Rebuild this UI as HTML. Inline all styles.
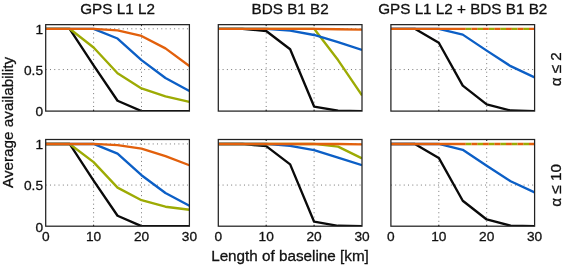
<!DOCTYPE html>
<html lang="en"><head><meta charset="utf-8"><title>Average availability vs. length of baseline</title>
<style>html,body{margin:0;padding:0;background:#fff}body{width:566px;height:265px;overflow:hidden;font-family:"Liberation Sans",sans-serif}svg{display:block}</style>
</head><body>
<svg font-family="'Liberation Sans', sans-serif" fill="#111" width="566" height="265" viewBox="0 0 566 265">
<rect width="566" height="265" fill="#ffffff"/>
<g stroke="#777" stroke-width="1" stroke-dasharray="1 3.28" fill="none"><line x1="93.60" y1="24.65" x2="93.60" y2="111.10"/><line x1="141.50" y1="24.65" x2="141.50" y2="111.10"/><line x1="45.70" y1="69.55" x2="189.40" y2="69.55"/><line x1="45.70" y1="28.80" x2="189.40" y2="28.80"/></g>
<clipPath id="c00"><rect x="45.70" y="24.65" width="143.70" height="86.45"/></clipPath>
<g fill="none" stroke-width="2.35" stroke-linejoin="round" clip-path="url(#c00)"><polyline points="45.70,28.80 69.65,28.80 93.60,65.42 117.55,100.73 141.50,111.10 165.45,111.10 189.40,111.10" stroke="#0a0a0a"/><polyline points="45.70,28.80 69.65,28.80 93.60,47.48 117.55,73.24 141.50,88.39 165.45,96.45 189.40,101.80" stroke="#9dab04"/><polyline points="45.70,28.80 69.65,28.80 93.60,28.80 117.55,38.51 141.50,60.07 165.45,78.02 189.40,91.02" stroke="#0c5fc6"/><polyline points="45.70,28.80 69.65,28.80 93.60,28.80 117.55,30.45 141.50,35.96 165.45,48.39 189.40,66.08" stroke="#e2600c"/></g>
<rect x="45.70" y="24.65" width="143.70" height="86.45" fill="none" stroke="#222" stroke-width="1.25"/>
<g stroke="#222" stroke-width="1"><line x1="93.60" y1="111.10" x2="93.60" y2="109.60"/><line x1="93.60" y1="24.65" x2="93.60" y2="26.15"/><line x1="141.50" y1="111.10" x2="141.50" y2="109.60"/><line x1="141.50" y1="24.65" x2="141.50" y2="26.15"/></g>
<text stroke="#111" stroke-width="0.3" transform="translate(43.00,116.40) scale(1.0,1)" text-anchor="end" font-size="13.7">0</text>
<text stroke="#111" stroke-width="0.3" transform="translate(43.00,74.85) scale(1.0,1)" text-anchor="end" font-size="13.7">0.5</text>
<text stroke="#111" stroke-width="0.3" transform="translate(43.00,34.10) scale(1.0,1)" text-anchor="end" font-size="13.7">1</text>
<g stroke="#777" stroke-width="1" stroke-dasharray="1 3.28" fill="none"><line x1="266.20" y1="24.65" x2="266.20" y2="111.10"/><line x1="314.10" y1="24.65" x2="314.10" y2="111.10"/><line x1="218.30" y1="69.55" x2="362.00" y2="69.55"/><line x1="218.30" y1="28.80" x2="362.00" y2="28.80"/></g>
<clipPath id="c01"><rect x="218.30" y="24.65" width="143.70" height="86.45"/></clipPath>
<g fill="none" stroke-width="2.35" stroke-linejoin="round" clip-path="url(#c01)"><polyline points="218.30,28.80 242.25,28.80 266.20,31.02 290.15,49.21 314.10,106.57 338.05,110.69 362.00,111.10" stroke="#0a0a0a"/><polyline points="218.30,28.80 242.25,28.80 266.20,28.80 290.15,28.80 314.10,28.80 338.05,60.07 362.00,95.46" stroke="#9dab04"/><polyline points="218.30,28.80 242.25,28.80 266.20,28.80 290.15,30.69 314.10,34.97 338.05,42.05 362.00,49.95" stroke="#0c5fc6"/><polyline points="218.30,28.80 242.25,28.80 266.20,28.80 290.15,28.80 314.10,28.80 338.05,29.21 362.00,29.62" stroke="#e2600c"/></g>
<rect x="218.30" y="24.65" width="143.70" height="86.45" fill="none" stroke="#222" stroke-width="1.25"/>
<g stroke="#222" stroke-width="1"><line x1="266.20" y1="111.10" x2="266.20" y2="109.60"/><line x1="266.20" y1="24.65" x2="266.20" y2="26.15"/><line x1="314.10" y1="111.10" x2="314.10" y2="109.60"/><line x1="314.10" y1="24.65" x2="314.10" y2="26.15"/></g>
<g stroke="#777" stroke-width="1" stroke-dasharray="1 3.28" fill="none"><line x1="438.80" y1="24.65" x2="438.80" y2="111.10"/><line x1="486.70" y1="24.65" x2="486.70" y2="111.10"/><line x1="390.90" y1="69.55" x2="534.60" y2="69.55"/><line x1="390.90" y1="28.80" x2="534.60" y2="28.80"/></g>
<clipPath id="c02"><rect x="390.90" y="24.65" width="143.70" height="86.45"/></clipPath>
<g fill="none" stroke-width="2.35" stroke-linejoin="round" clip-path="url(#c02)"><polyline points="390.90,28.80 414.85,28.80 438.80,42.79 462.75,85.59 486.70,104.35 510.65,110.52 534.60,111.10" stroke="#0a0a0a"/><polyline points="390.90,28.80 414.85,28.80 438.80,28.80 462.75,34.64 486.70,50.61 510.65,66.16 534.60,77.36" stroke="#0c5fc6"/><line x1="390.90" y1="28.80" x2="465.8" y2="28.80" stroke="#e2600c"/><line x1="465.8" y1="28.80" x2="534.60" y2="28.80" stroke="#9dab04" stroke-dasharray="5.7 5.8"/><line x1="471.5" y1="28.80" x2="534.60" y2="28.80" stroke="#e2600c" stroke-dasharray="5.8 5.7"/></g>
<rect x="390.90" y="24.65" width="143.70" height="86.45" fill="none" stroke="#222" stroke-width="1.25"/>
<g stroke="#222" stroke-width="1"><line x1="438.80" y1="111.10" x2="438.80" y2="109.60"/><line x1="438.80" y1="24.65" x2="438.80" y2="26.15"/><line x1="486.70" y1="111.10" x2="486.70" y2="109.60"/><line x1="486.70" y1="24.65" x2="486.70" y2="26.15"/></g>
<g stroke="#777" stroke-width="1" stroke-dasharray="1 3.28" fill="none"><line x1="93.60" y1="139.50" x2="93.60" y2="226.20"/><line x1="141.50" y1="139.50" x2="141.50" y2="226.20"/><line x1="45.70" y1="185.07" x2="189.40" y2="185.07"/><line x1="45.70" y1="143.95" x2="189.40" y2="143.95"/></g>
<clipPath id="c10"><rect x="45.70" y="139.50" width="143.70" height="86.70"/></clipPath>
<g fill="none" stroke-width="2.35" stroke-linejoin="round" clip-path="url(#c10)"><polyline points="45.70,143.95 69.65,143.95 93.60,180.55 117.55,215.75 141.50,226.20 165.45,226.20 189.40,226.20" stroke="#0a0a0a"/><polyline points="45.70,143.95 69.65,143.95 93.60,162.13 117.55,187.62 141.50,200.21 165.45,206.71 189.40,209.75" stroke="#9dab04"/><polyline points="45.70,143.95 69.65,143.95 93.60,143.95 117.55,153.66 141.50,175.20 165.45,193.05 189.40,205.72" stroke="#0c5fc6"/><polyline points="45.70,143.95 69.65,143.95 93.60,143.95 117.55,145.18 141.50,148.64 165.45,156.21 189.40,165.25" stroke="#e2600c"/></g>
<rect x="45.70" y="139.50" width="143.70" height="86.70" fill="none" stroke="#222" stroke-width="1.25"/>
<g stroke="#222" stroke-width="1"><line x1="93.60" y1="226.20" x2="93.60" y2="224.70"/><line x1="93.60" y1="139.50" x2="93.60" y2="141.00"/><line x1="141.50" y1="226.20" x2="141.50" y2="224.70"/><line x1="141.50" y1="139.50" x2="141.50" y2="141.00"/></g>
<text stroke="#111" stroke-width="0.3" transform="translate(43.00,231.50) scale(1.0,1)" text-anchor="end" font-size="13.7">0</text>
<text stroke="#111" stroke-width="0.3" transform="translate(43.00,190.38) scale(1.0,1)" text-anchor="end" font-size="13.7">0.5</text>
<text stroke="#111" stroke-width="0.3" transform="translate(43.00,149.25) scale(1.0,1)" text-anchor="end" font-size="13.7">1</text>
<text stroke="#111" stroke-width="0.3" transform="translate(45.70,241.00) scale(1.0,1)" text-anchor="middle" font-size="13.7">0</text>
<text stroke="#111" stroke-width="0.3" transform="translate(93.60,241.00) scale(1.0,1)" text-anchor="middle" font-size="13.7">10</text>
<text stroke="#111" stroke-width="0.3" transform="translate(141.50,241.00) scale(1.0,1)" text-anchor="middle" font-size="13.7">20</text>
<text stroke="#111" stroke-width="0.3" transform="translate(189.40,241.00) scale(1.0,1)" text-anchor="middle" font-size="13.7">30</text>
<g stroke="#777" stroke-width="1" stroke-dasharray="1 3.28" fill="none"><line x1="266.20" y1="139.50" x2="266.20" y2="226.20"/><line x1="314.10" y1="139.50" x2="314.10" y2="226.20"/><line x1="218.30" y1="185.07" x2="362.00" y2="185.07"/><line x1="218.30" y1="143.95" x2="362.00" y2="143.95"/></g>
<clipPath id="c11"><rect x="218.30" y="139.50" width="143.70" height="86.70"/></clipPath>
<g fill="none" stroke-width="2.35" stroke-linejoin="round" clip-path="url(#c11)"><polyline points="218.30,143.95 242.25,143.95 266.20,146.17 290.15,164.35 314.10,221.68 338.05,225.79 362.00,226.20" stroke="#0a0a0a"/><polyline points="218.30,143.95 242.25,143.95 266.20,143.95 290.15,143.95 314.10,143.95 338.05,146.58 362.00,158.34" stroke="#9dab04"/><polyline points="218.30,143.95 242.25,143.95 266.20,143.95 290.15,145.84 314.10,150.12 338.05,157.60 362.00,165.25" stroke="#0c5fc6"/><polyline points="218.30,143.95 242.25,143.95 266.20,143.95 290.15,143.95 314.10,143.95 338.05,143.95 362.00,144.36" stroke="#e2600c"/></g>
<rect x="218.30" y="139.50" width="143.70" height="86.70" fill="none" stroke="#222" stroke-width="1.25"/>
<g stroke="#222" stroke-width="1"><line x1="266.20" y1="226.20" x2="266.20" y2="224.70"/><line x1="266.20" y1="139.50" x2="266.20" y2="141.00"/><line x1="314.10" y1="226.20" x2="314.10" y2="224.70"/><line x1="314.10" y1="139.50" x2="314.10" y2="141.00"/></g>
<text stroke="#111" stroke-width="0.3" transform="translate(218.30,241.00) scale(1.0,1)" text-anchor="middle" font-size="13.7">0</text>
<text stroke="#111" stroke-width="0.3" transform="translate(266.20,241.00) scale(1.0,1)" text-anchor="middle" font-size="13.7">10</text>
<text stroke="#111" stroke-width="0.3" transform="translate(314.10,241.00) scale(1.0,1)" text-anchor="middle" font-size="13.7">20</text>
<text stroke="#111" stroke-width="0.3" transform="translate(362.00,241.00) scale(1.0,1)" text-anchor="middle" font-size="13.7">30</text>
<g stroke="#777" stroke-width="1" stroke-dasharray="1 3.28" fill="none"><line x1="438.80" y1="139.50" x2="438.80" y2="226.20"/><line x1="486.70" y1="139.50" x2="486.70" y2="226.20"/><line x1="390.90" y1="185.07" x2="534.60" y2="185.07"/><line x1="390.90" y1="143.95" x2="534.60" y2="143.95"/></g>
<clipPath id="c12"><rect x="390.90" y="139.50" width="143.70" height="86.70"/></clipPath>
<g fill="none" stroke-width="2.35" stroke-linejoin="round" clip-path="url(#c12)"><polyline points="390.90,143.95 414.85,143.95 438.80,157.93 462.75,200.70 486.70,219.46 510.65,225.62 534.60,226.20" stroke="#0a0a0a"/><polyline points="390.90,143.95 414.85,143.95 438.80,143.95 462.75,149.79 486.70,165.75 510.65,181.29 534.60,192.48" stroke="#0c5fc6"/><line x1="390.90" y1="143.95" x2="465.8" y2="143.95" stroke="#e2600c"/><line x1="465.8" y1="143.95" x2="534.60" y2="143.95" stroke="#9dab04" stroke-dasharray="5.7 5.8"/><line x1="471.5" y1="143.95" x2="534.60" y2="143.95" stroke="#e2600c" stroke-dasharray="5.8 5.7"/></g>
<rect x="390.90" y="139.50" width="143.70" height="86.70" fill="none" stroke="#222" stroke-width="1.25"/>
<g stroke="#222" stroke-width="1"><line x1="438.80" y1="226.20" x2="438.80" y2="224.70"/><line x1="438.80" y1="139.50" x2="438.80" y2="141.00"/><line x1="486.70" y1="226.20" x2="486.70" y2="224.70"/><line x1="486.70" y1="139.50" x2="486.70" y2="141.00"/></g>
<text stroke="#111" stroke-width="0.3" transform="translate(390.90,241.00) scale(1.0,1)" text-anchor="middle" font-size="13.7">0</text>
<text stroke="#111" stroke-width="0.3" transform="translate(438.80,241.00) scale(1.0,1)" text-anchor="middle" font-size="13.7">10</text>
<text stroke="#111" stroke-width="0.3" transform="translate(486.70,241.00) scale(1.0,1)" text-anchor="middle" font-size="13.7">20</text>
<text stroke="#111" stroke-width="0.3" transform="translate(534.60,241.00) scale(1.0,1)" text-anchor="middle" font-size="13.7">30</text>
<text stroke="#111" stroke-width="0.3" transform="translate(117.55,13.50) scale(1.0,1)" text-anchor="middle" font-size="15.25">GPS L1 L2</text>
<text stroke="#111" stroke-width="0.3" transform="translate(290.15,13.50) scale(1.0,1)" text-anchor="middle" font-size="15.25">BDS B1 B2</text>
<text stroke="#111" stroke-width="0.3" transform="translate(462.75,13.50) scale(1.0,1)" text-anchor="middle" font-size="15.25">GPS L1 L2 + BDS B1 B2</text>
<text stroke="#111" stroke-width="0.3" transform="translate(290.00,260.80) scale(1.0,1)" text-anchor="middle" font-size="15.25">Length of baseline [km]</text>
<text stroke="#111" stroke-width="0.3" transform="translate(13.30,122.40) rotate(-90) scale(1,1.0)" text-anchor="middle" font-size="15.25">Average availability</text>
<text stroke="#111" stroke-width="0.3" transform="translate(561.00,69.25) rotate(-90) scale(1,1.0)" text-anchor="middle" font-size="15.25">α ≤ 2</text>
<text stroke="#111" stroke-width="0.3" transform="translate(561.00,185.40) rotate(-90) scale(1,1.0)" text-anchor="middle" font-size="15.25">α ≤ 10</text>
</svg>
</body></html>
